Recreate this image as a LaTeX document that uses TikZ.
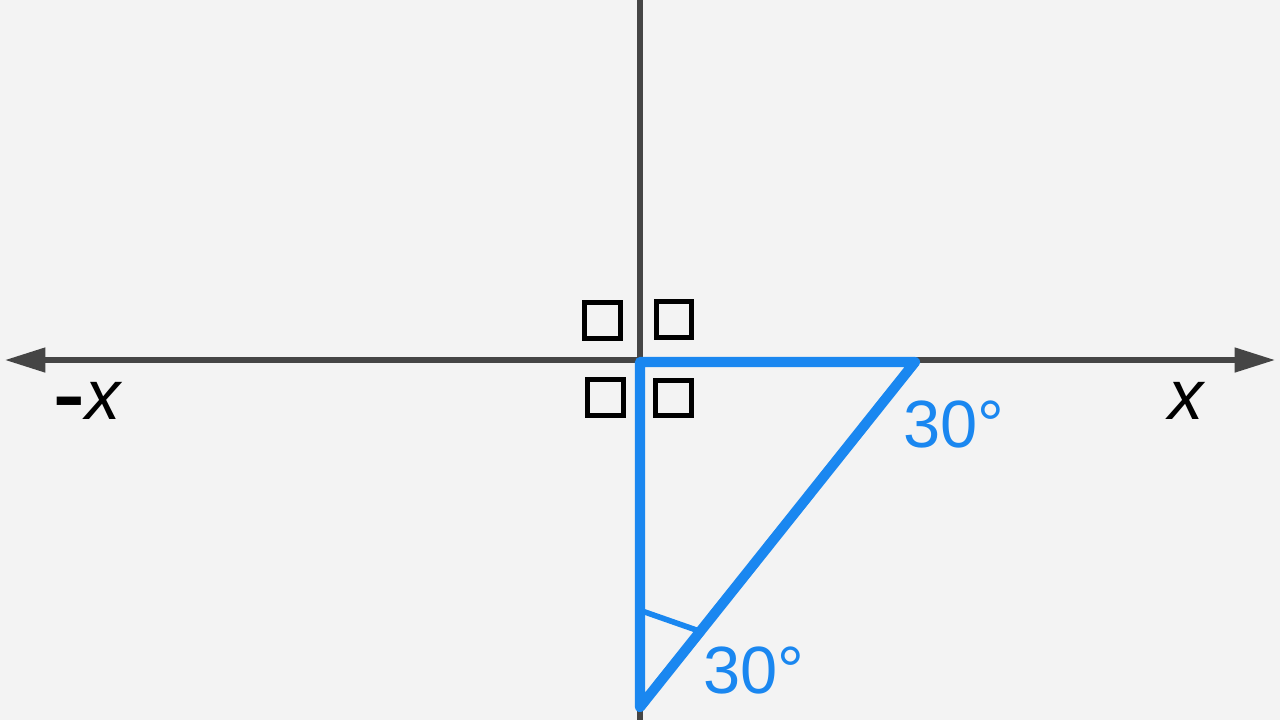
\documentclass[tikz,border=0pt]{standalone}
\usepackage{graphicx}
\usepackage{fontspec}
\setmainfont{Liberation Sans}
\usetikzlibrary{positioning,arrows.meta,calc}
\definecolor{bg}{HTML}{F3F3F3}
\definecolor{axisgray}{HTML}{454545}
\definecolor{triblue}{HTML}{1A87F0}
\tikzset{
  axis/.style={draw=axisgray,line width=1.45pt},
  axtip/.tip={Triangle[length=11.5pt,width=6.8pt]},
  tri/.style={draw=triblue,line width=2.9pt,line join=round},
  quadbox/.style={draw=black,line width=1.4pt,minimum size=10.2pt,inner sep=0pt},
  anglab/.style={text=triblue,inner sep=0pt,font=\fontsize{19}{19}\selectfont},
  axlab/.style={inner sep=0pt,font=\fontsize{20}{20}\selectfont}
}

\begin{document}
\begin{tikzpicture}[x=0.01cm,y=-0.01cm]
\fill[bg] (0,0) rectangle (1280,720);
\useasboundingbox (0,0) rectangle (1280,720);

% axes
\coordinate (xl) at (5,360);
\coordinate (xr) at (1275,360);
\coordinate (yt) at (640,0);
\coordinate (yb) at (640,720);
\draw[axis,axtip-axtip] (xl) -- (xr);
\draw[axis] (yt) -- (yb);
\node[axlab] (mx) at (88,401) {\scalebox{1.35}[1]{\textbf{-}}\textit{x}};
\node[axlab] (px) at (1187,401) {\textit{x}};

% quadrant boxes
\node[quadbox] (q2) at (602.5,320.5) {};
\node[quadbox] (q1) at (674,319.5) {};
\node[quadbox] (q3) at (605.5,397.5) {};
\node[quadbox] (q4) at (673.5,398) {};

% triangle
\coordinate (o) at (640,362);
\coordinate (r) at (915,362);
\coordinate (b) at (640,707);
\draw[tri] (o) -- (r) -- (b) -- cycle;
\draw[draw=triblue,line width=1.6pt] ($(b)!27.5pt!(o)$) -- ($(b)!27.5pt!(r)$);
\node[anglab] (ar) at (954,424) {30°};
\node[anglab] (ab) at (754,670) {30°};

\end{tikzpicture}
\end{document}
